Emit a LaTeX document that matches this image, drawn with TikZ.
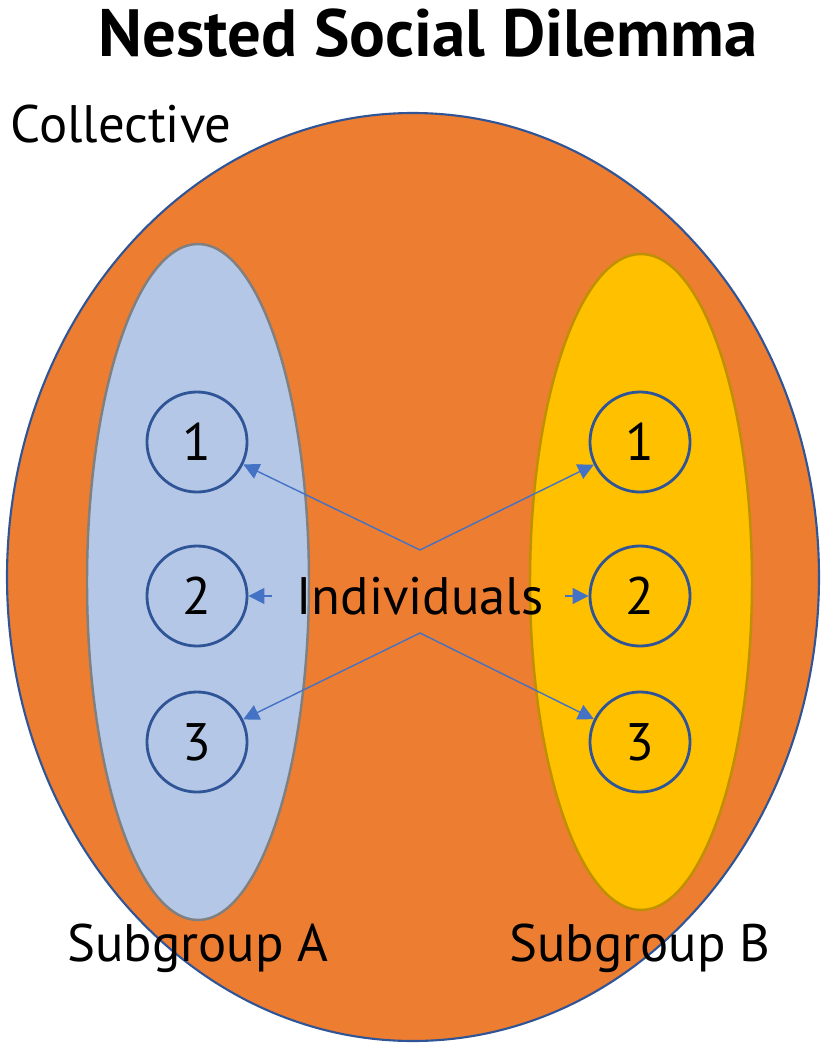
\documentclass[tikz,border=0pt]{standalone}
\usepackage{fontspec}
\setmainfont{PT Sans}
\usetikzlibrary{arrows.meta}
\definecolor{collorange}{HTML}{ED7D31}
\definecolor{subblue}{HTML}{B4C7E7}
\definecolor{subyellow}{HTML}{FFC000}
\definecolor{rimblue}{HTML}{2F5597}
\definecolor{arrowblue}{HTML}{4472C4}
\tikzset{
  member/.style={circle,draw=rimblue,line width=0.8pt,minimum size=1cm,inner sep=0pt,font=\fontsize{15}{18}\selectfont},
  tag/.style={font=\fontsize{15}{18}\selectfont,inner sep=0pt},
  link/.style={-{Triangle[length=4.5pt,width=4.5pt]},arrowblue,line width=0.4pt}
}

\begin{document}
\begin{tikzpicture}[x=0.01cm,y=-0.01cm]
\useasboundingbox (0,0) rectangle (826,1048);

%% collective
\filldraw [fill=collorange,draw=rimblue,line width=0.6pt] (413,577) ellipse [x radius=406, y radius=464];
% subgroups
\filldraw [fill=subblue,draw=gray,line width=0.7pt] (198,582) ellipse [x radius=111, y radius=338];
\filldraw [fill=subyellow,draw=subyellow!75!black,line width=0.7pt] (641,582) ellipse [x radius=111, y radius=328];

%% labels
\node [tag,font=\fontsize{19}{22}\selectfont\bfseries] (title) at (428,33) {Nested Social Dilemma};
\node [tag,anchor=west] (coll) at (10,124) {Collective};
\node [tag] (subA) at (198,948) {Subgroup A};
\node [tag] (subB) at (640,948) {Subgroup B};
\node [tag] (indiv) at (420,596) {Individuals};

%% individuals
\node [member] (a1) at (197,442) {1};
\node [member] (a2) at (197,596) {2};
\node [member] (a3) at (197,742) {3};
\node [member] (b1) at (640,442) {1};
\node [member] (b2) at (640,596) {2};
\node [member] (b3) at (640,742) {3};

%% arrows
\coordinate (top) at (420,550);
\coordinate (bot) at (420,633);
\coordinate (left) at (272,596);
\coordinate (right) at (565,596);
\draw [link] (top) -- (a1);
\draw [link] (top) -- (b1);
\draw [link] (bot) -- (a3);
\draw [link] (bot) -- (b3);
\draw [link] (left) -- (a2);
\draw [link] (right) -- (b2);

\end{tikzpicture}
\end{document}
